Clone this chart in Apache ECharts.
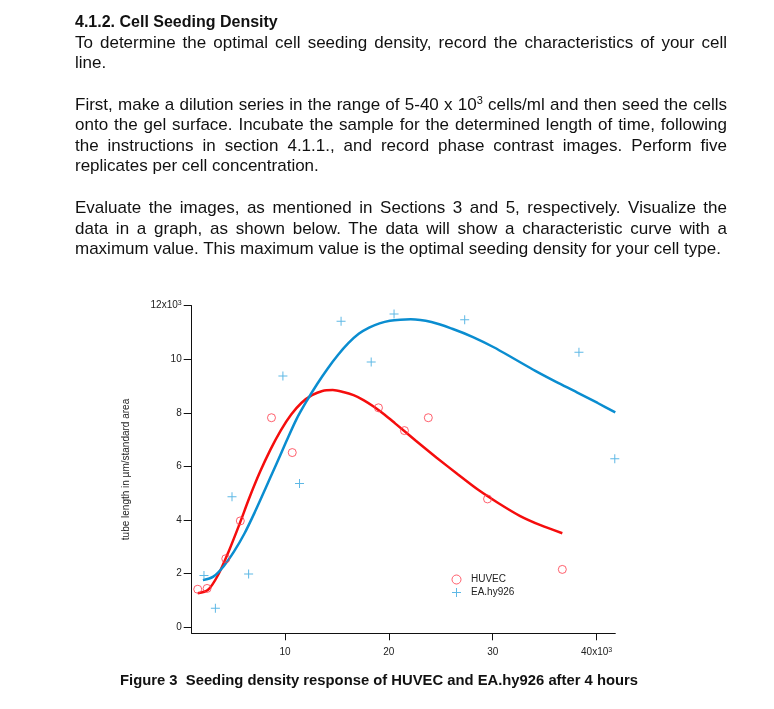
<!DOCTYPE html>
<html><head><meta charset="utf-8">
<script src="https://cdn.jsdelivr.net/npm/echarts@6/dist/echarts.min.js"></script>
<style>
body{margin:0;background:#fff;width:774px;height:709px;overflow:hidden;position:relative;font-family:'Liberation Sans',Arial,sans-serif;color:#111}
#chart{position:absolute;left:0;top:0;width:774px;height:709px}
.ln{position:absolute;left:75px;font-size:17px;line-height:20px;white-space:nowrap;z-index:2}
.j{width:652px;text-align:justify;text-align-last:justify}
.h{font-weight:bold;font-size:16px}
sup{font-size:11px;line-height:0;vertical-align:6px}
</style></head>
<body>
<div id="chart"></div>
<div class="ln h" style="top:11.5px">4.1.2. Cell Seeding Density</div>
<div class="ln j" style="top:33px">To determine the optimal cell seeding density, record the characteristics of your cell</div>
<div class="ln" style="top:53px">line.</div>
<div class="ln j" style="top:94.5px">First, make a dilution series in the range of 5-40 x 10<sup>3</sup> cells/ml and then seed the cells</div>
<div class="ln j" style="top:115px">onto the gel surface. Incubate the sample for the determined length of time, following</div>
<div class="ln j" style="top:135.5px">the instructions in section 4.1.1., and record phase contrast images. Perform five</div>
<div class="ln" style="top:156px">replicates per cell concentration.</div>
<div class="ln j" style="top:198px">Evaluate the images, as mentioned in Sections 3 and 5, respectively. Visualize the</div>
<div class="ln j" style="top:218.5px">data in a graph, as shown below. The data will show a characteristic curve with a</div>
<div class="ln" style="top:239px">maximum value. This maximum value is the optimal seeding density for your cell type.</div>
<script>
// ---- data ----
const huvecX = [1.6, 2.5, 4.3, 5.7, 8.7, 10.7, 19.0, 21.5, 23.8, 29.5, 36.7];
const huvecY = [1.42, 1.45, 2.56, 3.97, 7.82, 6.52, 8.19, 7.34, 7.82, 4.79, 2.16];
const eaX = [2.2, 3.3, 4.9, 6.5, 9.8, 11.4, 15.4, 18.3, 20.5, 27.3, 38.3, 41.75];
const eaY = [1.93, 0.71, 4.87, 1.99, 9.38, 5.37, 11.42, 9.90, 11.69, 11.48, 10.26, 6.29];
// fitted curves at regular x steps
const huvecFitX = [1.6, 2.6, 3.6, 4.6, 5.6, 6.6, 7.6, 8.6, 9.6, 10.6, 11.6, 12.6, 13.6, 14.6, 15.6, 16.6, 17.6, 18.6, 19.6, 20.6, 22.6, 24.6, 26.6, 28.6, 30.6, 32.6, 34.6, 36.7];
const huvecFitY = [1.27, 1.40, 1.98, 2.85, 3.83, 4.86, 5.80, 6.63, 7.35, 7.94, 8.38, 8.66, 8.82, 8.85, 8.78, 8.66, 8.47, 8.22, 7.93, 7.61, 6.96, 6.33, 5.72, 5.13, 4.62, 4.16, 3.81, 3.51];
const eaFitX = [2.1, 3.1, 4.1, 5.1, 6.1, 7.1, 8.1, 9.1, 10.1, 11.1, 12.1, 13.1, 14.1, 15.1, 16.1, 17.1, 18.1, 19.1, 20.1, 21.1, 22.1, 24.1, 26.1, 28.1, 30.1, 32.1, 34.1, 36.1, 38.1, 40.1, 41.8];
const eaFitY = [1.76, 1.89, 2.28, 2.83, 3.50, 4.30, 5.16, 6.03, 6.91, 7.76, 8.45, 9.08, 9.65, 10.16, 10.60, 10.95, 11.18, 11.34, 11.44, 11.48, 11.49, 11.39, 11.14, 10.83, 10.45, 10.01, 9.57, 9.16, 8.77, 8.37, 8.02];
const xTicks = [10, 20, 30, 40];
const yTicks = [0, 2, 4, 6, 8, 10, 12];
const seriesNames = ['HUVEC', 'EA.hy926'];
const yAxisName = 'tube length in \u00b5m/standard area';
const caption = 'Figure 3  Seeding density response of HUVEC and EA.hy926 after 4 hours';

const zip = (a, b) => a.map((v, i) => [v, b[i]]);
const plus = 'path://M4,0L5,0L5,4L9,4L9,5L5,5L5,9L4,9L4,5L0,5L0,4L4,4Z';
const FONT = 'Liberation Sans';
const RED = '#ff3a4a', BLUE = '#36a6de';
const rich = {
  n: {fontSize: 10, fontFamily: FONT, color: '#222', lineHeight: 12},
  s: {fontSize: 7, fontFamily: FONT, color: '#222', lineHeight: 6, verticalAlign: 'top'}
};

const chart = echarts.init(document.getElementById('chart'), null, {renderer: 'canvas'});
chart.setOption({
  animation: false,
  backgroundColor: '#fff',
  title: {
    text: caption, left: 115, top: 668,
    textStyle: {fontFamily: FONT, fontSize: 14.8, fontWeight: 'bold', color: '#111'}
  },
  grid: {left: 191.7, right: 158.7, top: 305.7, bottom: 75.7},
  legend: {
    orient: 'vertical', left: 446.5, top: 569.5, itemWidth: 9, itemHeight: 9, itemGap: 3,
    textStyle: {fontFamily: FONT, fontSize: 10, color: '#222', padding: [0, 0, 0, 5]},
    data: [
      {name: seriesNames[0], icon: 'circle',
       itemStyle: {color: 'rgba(255,255,255,0)', borderColor: RED, borderWidth: 1}},
      {name: seriesNames[1], icon: plus, itemStyle: {color: BLUE, borderWidth: 0}}
    ]
  },
  xAxis: {
    type: 'value', min: 1.02, max: 41.8,
    axisLine: {onZero: false, lineStyle: {color: '#111', width: 1}},
    axisTick: {customValues: xTicks, length: 7, lineStyle: {color: '#111'}},
    axisLabel: {customValues: xTicks, margin: 13,
      formatter: v => v === 40 ? '{n|40x10}{s|3}' : '{n|' + v + '}', rich: rich},
    splitLine: {show: false}
  },
  yAxis: {
    type: 'value', min: -0.224, max: 12,
    name: yAxisName, nameLocation: 'middle', nameRotate: 90, nameGap: 60,
    nameTextStyle: {fontFamily: FONT, fontSize: 10, color: '#222'},
    axisLine: {show: true, onZero: false, lineStyle: {color: '#111', width: 1}},
    axisTick: {show: true, customValues: yTicks, length: 8, lineStyle: {color: '#111'}},
    axisLabel: {customValues: yTicks, margin: 10,
      formatter: v => v === 12 ? '{n|12x10}{s|3}' : '{n|' + v + '}', rich: rich},
    splitLine: {show: false}
  },
  series: [
    {name: 'HUVEC fit', type: 'line', data: zip(huvecFitX, huvecFitY), smooth: 0.3, showSymbol: false,
     lineStyle: {color: '#f50d0d', width: 2.5}, z: 2},
    {name: 'EA.hy926 fit', type: 'line', data: zip(eaFitX, eaFitY), smooth: 0.3, showSymbol: false,
     lineStyle: {color: '#0a8dd0', width: 2.5}, z: 2},
    {name: seriesNames[0], type: 'scatter', data: zip(huvecX, huvecY), symbol: 'circle', symbolSize: 8, clip: false,
     itemStyle: {color: 'rgba(255,255,255,0)', borderColor: RED, borderWidth: 1}, z: 3},
    {name: seriesNames[1], type: 'scatter', data: zip(eaX, eaY), symbol: plus, symbolSize: 9, clip: false,
     symbolKeepAspect: true, itemStyle: {color: BLUE}, z: 3}
  ]
});
</script>
</body></html>
